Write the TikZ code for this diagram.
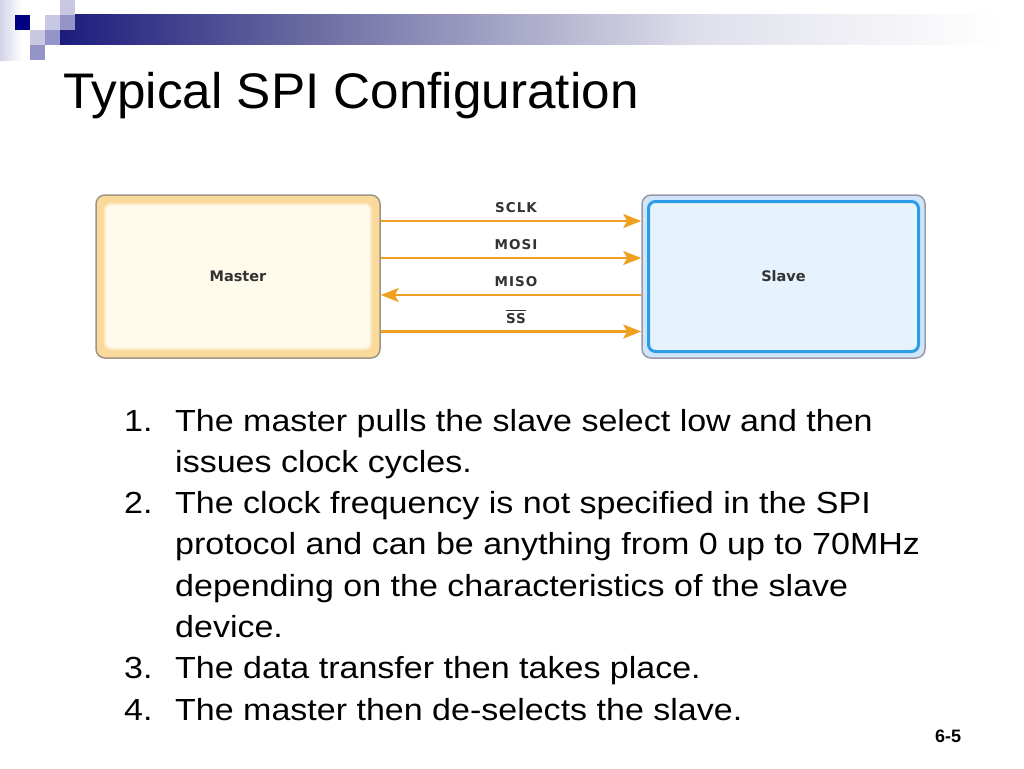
\documentclass[tikz,border=0pt]{standalone}
\usepackage{fontspec}
\setmainfont{Liberation Sans}
\newfontfamily\titlefont[FakeStretch=1.025]{Liberation Sans}
\newfontfamily\bodyfont[FakeStretch=1.115]{Liberation Sans}
\newfontfamily\boxfont{DejaVu Sans}
\newfontfamily\lblfont[LetterSpace=8]{DejaVu Sans}
\usetikzlibrary{arrows.meta}
\definecolor{navy}{HTML}{000080}
\definecolor{barL}{HTML}{1C1C7E}
\definecolor{barM}{HTML}{6868A0}
\definecolor{barR}{HTML}{E0E0EC}
\definecolor{lavA}{HTML}{C8C8E2}
\definecolor{lavB}{HTML}{9494C8}
\definecolor{sigor}{HTML}{F0A020}
\definecolor{mborder}{HTML}{A09484}
\definecolor{mband}{HTML}{F9DA9A}
\definecolor{mline}{HTML}{FCEBC6}
\definecolor{mfill}{HTML}{FFFBEA}
\definecolor{sborder}{HTML}{9C98A8}
\definecolor{sband}{HTML}{2B9DE8}
\definecolor{souter}{HTML}{CFE6FA}
\definecolor{sfill}{HTML}{E6F2FC}
\tikzset{
  itemtext/.style={anchor=base west, inner sep=0pt, font=\bodyfont\fontsize{30.5}{36}\selectfont},
  sig/.style={draw=sigor, line width=2.5pt, -{Stealth[length=18pt,width=14pt,inset=4pt]}},
  siglbl/.style={inner sep=0pt, font=\lblfont\bfseries\fontsize{13.5}{15}\selectfont, text=black!80},
  boxlbl/.style={font=\boxfont\bfseries\fontsize{14.5}{17}\selectfont, text=black!80}
}
\begin{document}
\begin{tikzpicture}[x=1pt,y=-1pt]
\useasboundingbox[fill=white] (0,0) rectangle (1024,768);
% header decoration
\shade[left color=lavA!80, right color=white] (0,0) rectangle (22,60);
\shade[left color=barL, right color=barM] (60,15) rectangle (300,45);
\shade[left color=barM, right color=barR] (300,15) rectangle (700,45);
\shade[left color=barR, right color=white] (700,15) rectangle (1000,45);
\fill[white] (60,15) rectangle (75,30);
\fill[navy] (15,15) rectangle (30,30);
\fill[lavA] (45,15) rectangle (60,30);
\fill[lavB] (60,15) rectangle (75,30);
\fill[lavA] (60,0) rectangle (75,15);
\fill[lavA] (30,30) rectangle (45,45);
\fill[lavB] (45,30) rectangle (60,45);
\fill[lavB] (30,45) rectangle (45,60);
% title
\node[anchor=base west, inner sep=0pt, font=\titlefont\fontsize{50}{60}\selectfont] (title) at (63,108) {Typical SPI Configuration};
% boxes
\node[draw=mborder, line width=1.5pt, fill=mband, rounded corners=9pt, minimum width=284pt, minimum height=163pt] (master) at (238,276.5) {};
\node[draw=mline, line width=2pt, fill=mfill, rounded corners=6pt, minimum width=266pt, minimum height=145pt, boxlbl] (masterin) at (master.center) {Master};
\node[draw=sborder, line width=1.5pt, fill=souter, rounded corners=9pt, minimum width=283pt, minimum height=163pt] (slave) at (783.5,276.5) {};
\node[draw=sband, line width=3pt, fill=sfill, rounded corners=7pt, minimum width=270pt, minimum height=150pt, boxlbl] (slavein) at (slave.center) {Slave};
% signal levels
\coordinate (ysclk) at (0,221);
\coordinate (ymosi) at (0,258);
\coordinate (ymiso) at (0,295);
\coordinate (yss) at (0,331.5);
\draw[sig] (master.east |- ysclk) -- (slave.west |- ysclk);
\draw[sig] (master.east |- ymosi) -- (slave.west |- ymosi);
\draw[sig] (slave.west |- ymiso) -- (master.east |- ymiso);
\draw[sig] (master.east |- yss) -- (slave.west |- yss);
% signal labels
\node[siglbl] (lsclk) at (516,207.5) {SCLK};
\node[siglbl] (lmosi) at (516,244.5) {MOSI};
\node[siglbl] (lmiso) at (516,281.5) {MISO};
\node[siglbl, anchor=base] (lss) at (516,323) {$\overline{\mbox{\rule{0pt}{11.5pt}SS}}$};
% list
\node[itemtext] (n1) at (124,431) {1.};
\node[itemtext] (l1) at (175,431) {The master pulls the slave select low and then};
\node[itemtext] (l2) at (175,472.3) {issues clock cycles.};
\node[itemtext] (n2) at (124,513.6) {2.};
\node[itemtext] (l3) at (175,513.6) {The clock frequency is not specified in the SPI};
\node[itemtext] (l4) at (175,554.9) {protocol and can be anything from 0 up to 70MHz};
\node[itemtext] (l5) at (175,596.2) {depending on the characteristics of the slave};
\node[itemtext] (l6) at (175,637.5) {device.};
\node[itemtext] (n3) at (124,678.8) {3.};
\node[itemtext] (l7) at (175,678.8) {The data transfer then takes place.};
\node[itemtext] (n4) at (124,720.1) {4.};
\node[itemtext] (l8) at (175,720.1) {The master then de-selects the slave.};
% page number
\node[anchor=base west, inner sep=0pt, font=\bfseries\fontsize{18}{20}\selectfont] (pg) at (935,742) {6-5};
\end{tikzpicture}
\end{document}
